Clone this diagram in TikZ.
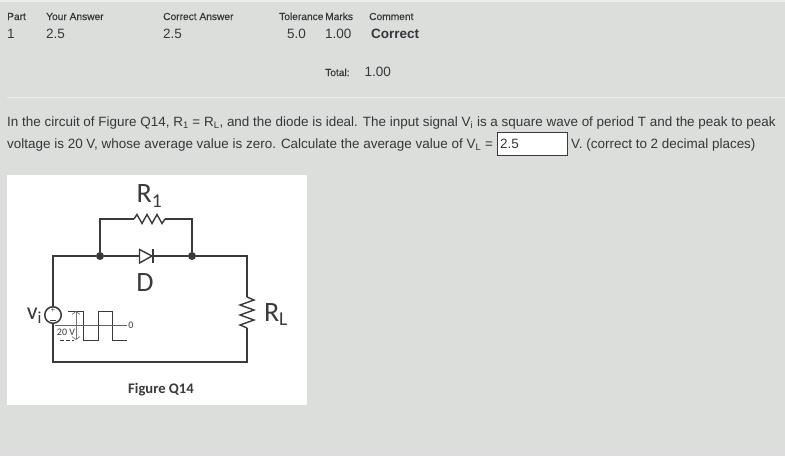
\documentclass[tikz,border=0pt]{standalone}
\usepackage{fontspec}
\setmainfont{Liberation Sans}
\newfontfamily\carl{Carlito}
\newfontfamily\hdfont[FakeBold=0.25]{Liberation Sans}
\usetikzlibrary{arrows.meta}
\definecolor{bgc}{HTML}{DCDEDC}
\definecolor{txt}{HTML}{33383A}
\definecolor{wire}{HTML}{3A3A3A}
\tikzset{
  x=1pt,y=-1pt,
  hd/.style={anchor=base west,inner sep=0pt,font=\hdfont\fontsize{10.2}{10}\selectfont,text=txt},
  val/.style={anchor=base west,inner sep=0pt,font=\fontsize{13.5}{13}\selectfont,text=txt},
  para/.style={anchor=base west,inner sep=0pt,font=\fontsize{13.46}{13}\selectfont,text=txt},
  wr/.style={draw=wire,line width=1.4pt},
  thinw/.style={draw=wire,line width=.9pt},
  big/.style={inner sep=0pt,text=wire,font=\carl\fontsize{28}{28}\selectfont},
  dot/.style={circle,fill=wire,inner sep=0pt,minimum size=8pt}
}
\begin{document}
\begin{tikzpicture}
\useasboundingbox (0,0) rectangle (785,456);
\fill[bgc] (0,0) rectangle (785,456);
\fill[white!50!bgc] (0,0) rectangle (785,1.5);
\draw[white!45!bgc,line width=.7pt] (7,97.5) -- (785,97.5);
% results table
\node[hd] (h1) at (7,20) {Part};
\node[hd] (h2) at (46,20) {Your Answer};
\node[hd] (h3) at (163,20) {Correct Answer};
\node[hd] (h4) at (279,20) {Tolerance};
\node[hd] (h5) at (325,20) {Marks};
\node[hd] (h6) at (369,20) {Comment};
\node[val] (v1) at (7,38) {1};
\node[val] (v2) at (46,38) {2.5};
\node[val] (v3) at (163,38) {2.5};
\node[val] (v4) at (287,38) {5.0};
\node[val] (v5) at (325,38) {1.00};
\node[val,font=\fontsize{13.5}{13}\selectfont\bfseries] (v6) at (371,38) {Correct};
\node[hd] (t1) at (325,76) {Total:};
\node[val] (t2) at (364.5,76) {1.00};
% question
\node[para] (q1) at (7,126.5) {In the circuit of Figure Q14, R\textsubscript{1} = R\textsubscript{L}, and the diode is ideal. The input signal V\textsubscript{i} is a square wave of period T and the peak to peak};
\node[para] (q2) at (7,148.5) {voltage is 20 V, whose average value is zero. Calculate the average value of V\textsubscript{L} =};
\node[draw=wire,fill=white,line width=.8pt,minimum width=70pt,minimum height=23.5pt,inner sep=0pt] (box) at (532,144) {};
\node[para] (ans) at (500,148.5) {2.5};
\node[para] (q3) at (571,148.5) {V. (correct to 2 decimal places)};
% figure
\fill[white] (7,175) rectangle (307,405);
\coordinate (a) at (53,256);
\node[dot] (j1) at (100,256) {};
\node[dot] (j2) at (192,256) {};
\coordinate (b) at (247,256);
\coordinate (c) at (247,362);
\coordinate (d) at (53,362);
\coordinate (tl) at (100,219);
\coordinate (tr) at (192,219);
\node[circle,draw=wire,line width=1.5pt,minimum size=16.5pt,inner sep=0pt] (src) at (53,315) {};
\draw[wr] (src.north) -- (a) -- (j1);
\draw[wr] (src.south) -- (d) -- (c) -- (247,328);
\draw[wr] (247,297) -- (b) -- (j2);
\draw[wr] (j1) -- (tl) -- (134,219);
\draw[wr] (165,219) -- (tr) -- (j2);
\draw[wr] (j1) -- (j2);
\draw[wr,line join=miter] (134,219) -- (137,214.5) -- (142,223.5) -- (147,214.5) -- (152,223.5) -- (157,214.5) -- (162,223.5) -- (165,219);
\draw[wr,line join=miter] (247,297) -- (254,300) -- (240,305) -- (254,310) -- (240,315) -- (254,320) -- (240,325) -- (247,328);
% diode
\draw[wr,fill=white] (139.5,249.5) -- (152,256) -- (139.5,263) -- cycle;
\draw[wr] (153,249) -- (153,263);
% source polarity
\node[inner sep=0pt,font=\fontsize{7}{7}\selectfont,text=wire] (pl) at (53,310) {+};
\draw[wr] (50,320.5) -- (56,320.5);
% waveform
\coordinate (w0) at (68,311);
\coordinate (w1) at (83,311);
\coordinate (w2) at (83,340);
\coordinate (w3) at (98,340);
\coordinate (w4) at (98,311);
\coordinate (w5) at (112,311);
\coordinate (w6) at (112,340);
\coordinate (w7) at (127,340);
\coordinate (z0) at (55,325);
\coordinate (z1) at (127,325);
\draw[thinw] (w0) -- (w1) -- (w2) -- (w3) -- (w4) -- (w5) -- (w6) -- (w7);
\draw[draw=wire!80,line width=.8pt] (z0) -- (z1);
\draw[draw=wire!70,line width=.7pt,{Straight Barb[length=3pt,width=8pt]}-{Straight Barb[length=3pt,width=8pt]}] (76,311) -- (76,340);
\draw[thinw,dash pattern=on 3.5pt off 2.5pt] (60,340) -- (74,340);
\node[inner sep=0pt,font=\carl\fontsize{10}{10}\selectfont,text=wire] (lab20) at (66,332) {20 V};
\node[inner sep=0pt,font=\carl\fontsize{10}{10}\selectfont,text=wire] (lab0) at (131,325.5) {0};
% labels
\node[big] (r1) at (149.5,196) {R\textsubscript{1}};
\node[big] (dl) at (145,283) {D};
\node[big] (rl) at (276,315) {R\textsubscript{L}};
\node[big,font=\carl\fontsize{24}{24}\selectfont] (vi) at (34.5,316) {v\textsubscript{i}};
\node[inner sep=0pt,font=\carl\bfseries\fontsize{14.6}{14}\selectfont,text=wire] (fig) at (161,390) {Figure Q14};
\end{tikzpicture}
\end{document}
